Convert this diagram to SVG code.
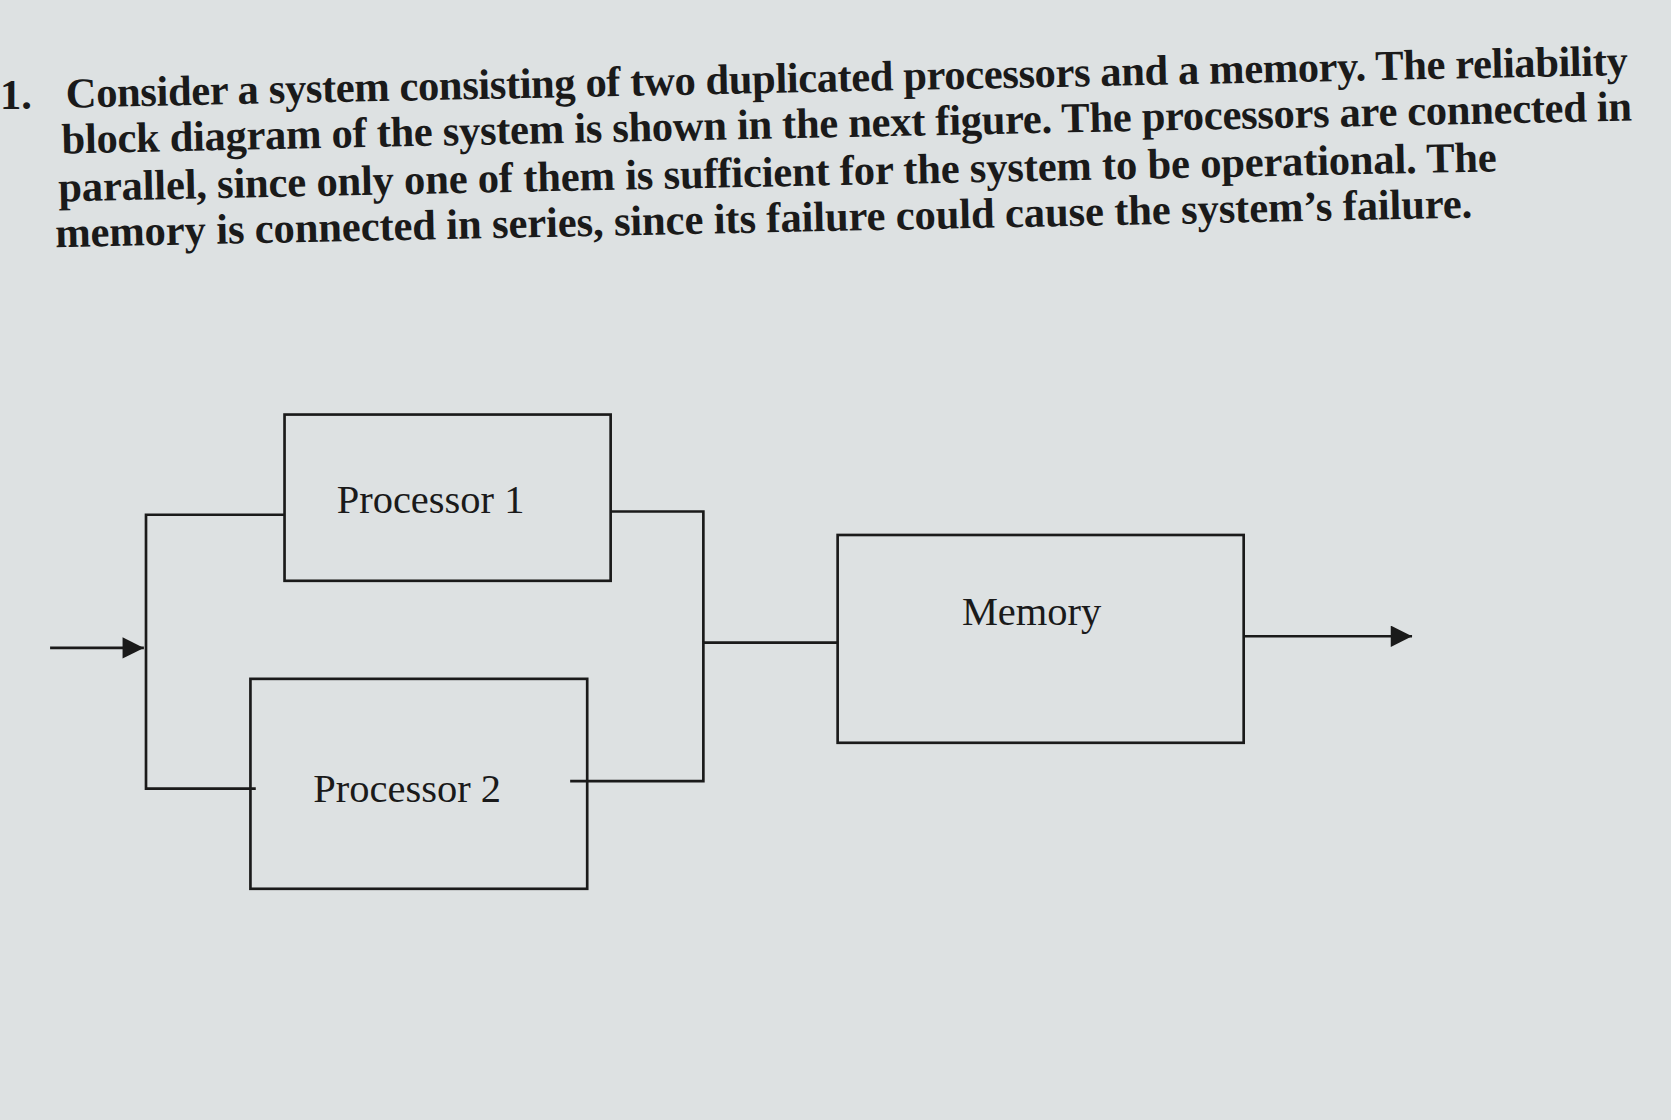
<svg xmlns="http://www.w3.org/2000/svg" width="1671" height="1120" viewBox="0 0 1671 1120">
<defs>
<style>
.t{font-family:"Liberation Serif",serif;font-size:40px;fill:#1a1a1a;font-weight:bold}
.l{font-family:"Liberation Serif",serif;font-size:38px;fill:#1a1a1a}
.b{fill:none;stroke:#1a1a1a;stroke-width:2.5}
.c{fill:none;stroke:#1a1a1a;stroke-width:2.5}
</style>
<marker id="a" viewBox="0 0 10 10" refX="10" refY="5" markerWidth="24" markerHeight="20" markerUnits="userSpaceOnUse" orient="auto"><path d="M0,0L10,5L0,10z" fill="#1a1a1a"/></marker>
</defs>
<rect width="1671" height="1120" fill="#dde1e2"/>
<g transform="scale(1.0657)">
<g id="text">
<text class="t" x="0" y="102">1.</text>
<text class="t" x="62" y="101" textLength="1466" transform="rotate(-1.2 62 101)">Consider a system consisting of two duplicated processors and a memory. The reliability</text>
<text class="t" x="58" y="144" textLength="1474" transform="rotate(-1.2 58 144)">block diagram of the system is shown in the next figure. The processors are connected in</text>
<text class="t" x="55" y="189" textLength="1350" transform="rotate(-1.2 55 189)">parallel, since only one of them is sufficient for the system to be operational. The</text>
<text class="t" x="52" y="232" textLength="1330" transform="rotate(-1.2 52 232)">memory is connected in series, since its failure could cause the system’s failure.</text>
</g>
<g id="p1"><rect class="b" x="267" y="389" width="306" height="156"/><text class="l" x="404" y="481" text-anchor="middle">Processor 1</text></g>
<g id="p2"><rect class="b" x="235" y="637" width="316" height="197"/><text class="l" x="382" y="753" text-anchor="middle">Processor 2</text></g>
<g id="mem"><rect class="b" x="786" y="502" width="381" height="195"/><text class="l" x="968" y="586" text-anchor="middle">Memory</text></g>
<g id="connectors">
<path class="c" d="M47,608H135" marker-end="url(#a)"/>
<path class="c" d="M267,483H137V740H240"/>
<path class="c" d="M573,480H660V733H535M660,603H786"/>
<path class="c" d="M1167,597H1325" marker-end="url(#a)"/>
</g>
</g>
</svg>
